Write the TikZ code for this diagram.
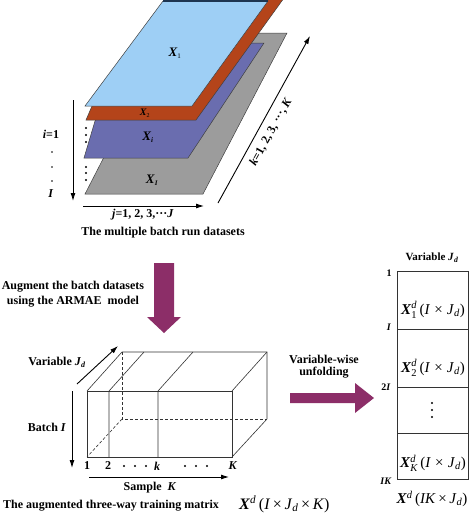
\documentclass[tikz,border=0pt]{standalone}
\usepackage{amsmath}
\usepackage{fontspec}
\setmainfont{Liberation Serif}
\usetikzlibrary{arrows.meta}
\definecolor{layblue}{HTML}{9ECFF5}
\definecolor{layorange}{HTML}{B4441A}
\definecolor{laypurple}{HTML}{6A6DAF}
\definecolor{laygray}{HTML}{9C9C9C}
\definecolor{bigarrow}{HTML}{8C2E68}
\definecolor{navy}{HTML}{1E3550}
\newcommand{\bX}{\textbf{\textit{X}}}
\newcommand{\fs}[1]{\fontsize{#1}{#1}\selectfont}
\newcommand{\tmul}{\,\textnormal{×}\,}
\newcommand{\wmul}{\;\textnormal{×}\;}
\begin{document}
\begin{tikzpicture}[x=1pt,y=-1pt,
  layer/.style={draw=black!75, line width=0.5pt},
  lab/.style={font=\fs{12}\bfseries, inner sep=0pt},
  smlab/.style={font=\fs{10}\bfseries, inner sep=0pt},
  arr/.style={line width=0.9pt, -{Latex[length=8pt,width=5pt]}},
  edge/.style={line width=0.6pt, black!80},
  hid/.style={line width=0.6pt, black!80, dash pattern=on 3pt off 2pt},
  form/.style={font=\fs{15}, inner sep=0pt},
  dotmark/.style={fill=black, inner sep=0pt, minimum size=2.4pt, circle}
]
\useasboundingbox (0,0) rectangle (474,515);

% ---------- stacked layers ----------
\begin{scope}
\clip (0,0) rectangle (474,515);
\fill[laygray] (85,194) -- (203,194) -- (287,33) -- (169,33) -- (103,159) -- cycle;
\draw[layer] (85,194) -- (203,194) -- (287,33) -- (169,33) -- (103,159) -- cycle;
\fill[laypurple] (84,158) -- (188,158) -- (264,43) -- (160,43) -- (95,121) -- cycle;
\draw[layer] (84,158) -- (188,158) -- (264,43) -- (160,43) -- (95,121) -- cycle;
\fill[layorange] (86,120) -- (196,120) -- (284,-2) -- (172,-2) -- (92,106) -- cycle;
\draw[layer] (86,120) -- (196,120) -- (284,-2) -- (172,-2) -- (92,106) -- cycle;
\fill[layblue] (85,106) -- (192,106) -- (268,1) -- (163,1) -- cycle;
\draw[layer] (85,106) -- (192,106) -- (268,1) -- (163,1) -- cycle;
\draw[navy, line width=2pt] (163,0.5) -- (268,0.5);
\end{scope}

\node[font=\fs{13}, inner sep=0pt] (x1) at (175,53) {\bX\textsubscript{\fs{7}1}};
\node[font=\fs{10}, inner sep=0pt] (x2) at (145,113) {\bX\textsubscript{\fs{6}2}};
\node[font=\fs{13}, inner sep=0pt] (xi) at (148,137) {\bX\textsubscript{\fs{7}\textbf{\textit{i}}}};
\node[font=\fs{13}, inner sep=0pt] (xI) at (152,180) {\bX\textsubscript{\fs{7}\textbf{\textit{I}}}};

% dots beside layers
\node[dotmark] (d1) at (86,128) {};
\node[dotmark] (d2) at (86,135) {};
\node[dotmark] (d3) at (86,142) {};
\node[dotmark] (d4) at (86,167) {};
\node[dotmark] (d5) at (86,173) {};
\node[dotmark] (d6) at (86,180) {};

% i axis
\coordinate (ia) at (73,100);
\coordinate (ib) at (73,201);
\draw[arr] (ia) -- (ib);
\node[lab] (ilab) at (51,134) {\textit{i}=1};
\node[dotmark, minimum size=1.8pt] (id1) at (52,152) {};
\node[dotmark, minimum size=1.8pt] (id2) at (52,167) {};
\node[dotmark, minimum size=1.8pt] (id3) at (52,181) {};
\node[lab] (ilabI) at (51,194) {\textit{I}};

% j axis
\coordinate (ja) at (83,206);
\coordinate (jb) at (204,206);
\draw[arr] (ja) -- (jb);
\node[lab] (jlab) at (143,215) {\textit{j}=1, 2, 3,···\textit{J}};
\node[lab] (cap1) at (163,233) {The multiple batch run datasets};

% k axis
\coordinate (ka) at (218,203);
\coordinate (kb) at (310,36);
\draw[arr] (ka) -- (kb);
\node[lab, rotate=61] (klab) at (271,132) {\textit{k}=1, 2, 3, ···, \textit{K}};

% ---------- big down arrow ----------
\fill[bigarrow] (154,263) -- (174,263) -- (174,317) -- (181,317) -- (164,333) -- (147,317) -- (154,317) -- cycle;
\node[lab, align=center] (aug) at (73,294) {Augment the batch datasets\\[3pt]using the ARMAE\ \ model};

% ---------- cube ----------
\coordinate (fTL) at (87,391);
\coordinate (fTR) at (232,391);
\coordinate (fBR) at (232,457);
\coordinate (fBL) at (87,457);
\coordinate (bTL) at (122,352);
\coordinate (bTR) at (267,352);
\coordinate (bBR) at (267,419);
\coordinate (bBL) at (122,419);
\coordinate (s2T) at (109,391);
\coordinate (s2B) at (109,457);
\coordinate (s2K) at (144,352);
\coordinate (skT) at (158,391);
\coordinate (skB) at (158,457);
\coordinate (skK) at (193,352);
\draw[hid] (bTL) -- (bBL) -- (bBR);
\draw[hid] (bBL) -- (fBL);
\draw[edge] (fTL) -- (fTR) -- (fBR) -- (fBL) -- cycle;
\draw[edge] (fTL) -- (bTL) -- (bTR) -- (bBR) -- (fBR);
\draw[edge] (fTR) -- (bTR);
\draw[edge] (s2B) -- (s2T) -- (s2K);
\draw[edge] (skB) -- (skT) -- (skK);

\coordinate (jda) at (77,384);
\coordinate (jdb) at (118,346);
\draw[arr] (jda) -- (jdb);
\node[lab, anchor=east] (varl) at (86,362) {Variable \textit{J}\textsubscript{\textit{d}}};
\coordinate (bta) at (72,391);
\coordinate (btb) at (72,468);
\draw[arr] (bta) -- (btb);
\node[lab] (batch) at (47,427) {Batch \textit{I}};

\node[lab] (n1) at (87,466) {1};
\node[lab] (n2) at (108,466) {2};
\node[dotmark] (c1) at (124,466) {};
\node[dotmark] (c2) at (135,466) {};
\node[dotmark] (c3) at (146,466) {};
\node[lab] (nk) at (157,466) {\textit{k}};
\node[dotmark] (c4) at (185,466) {};
\node[dotmark] (c5) at (196,466) {};
\node[dotmark] (c6) at (207,466) {};
\node[lab] (nK) at (233,466) {\textit{K}};

\coordinate (sa) at (89,477);
\coordinate (sb) at (229,477);
\draw[arr] (sa) -- (sb);
\node[lab] (sample) at (150,488) {Sample\ \ \textit{K}};

\node[lab, anchor=west] (cap2) at (3,506) {The augmented three-way training matrix};
\node[form, font=\fs{16}, anchor=west] (f3) at (239,504) {\bX$^{\textit{d}}$\,(\textit{I}\tmul\textit{J}$_{\textit{d}}$\tmul\textit{K})};

% ---------- right arrow ----------
\fill[bigarrow] (290,393) -- (355,393) -- (355,383) -- (374,398) -- (355,413) -- (355,403) -- (290,403) -- cycle;
\node[lab, align=center] (unf) at (324,367) {Variable-wise\\unfolding};

% ---------- unfolded matrix ----------
\coordinate (mTL) at (397,271);
\coordinate (mBR) at (468,479);
\draw[edge] (mTL) rectangle (mBR);
\coordinate (l1a) at (397,329);
\coordinate (l1b) at (468,329);
\coordinate (l2a) at (397,387);
\coordinate (l2b) at (468,387);
\coordinate (l3a) at (397,433);
\coordinate (l3b) at (468,433);
\draw[edge] (l1a) -- (l1b);
\draw[edge] (l2a) -- (l2b);
\draw[edge] (l3a) -- (l3b);

\node[smlab, font=\fs{11}\bfseries] (varr) at (432,258) {Variable \textit{J}\textsubscript{\textit{d}}};
\node[smlab] (r1) at (389,273) {1};
\node[smlab] (rI) at (389,327) {\textit{I}};
\node[smlab] (r2I) at (386,387) {2\textit{I}};
\node[smlab] (rIK) at (386,481) {\textit{IK}};

\node[form] (fx1) at (433,310) {\bX$^{\textit{d}}_{\textrm{1}}$\,(\textit{I}\wmul\textit{J}$_{\textit{d}}$)};
\node[form] (fx2) at (433,368) {\bX$^{\textit{d}}_{\textrm{2}}$\,(\textit{I}\wmul\textit{J}$_{\textit{d}}$)};
\node[dotmark] (v1) at (432,403) {};
\node[dotmark] (v2) at (432,410) {};
\node[dotmark] (v3) at (432,417) {};
\node[form] (fxK) at (433,463) {\bX$^{\textit{d}}_{\textit{K}}$\,(\textit{I}\wmul\textit{J}$_{\textit{d}}$)};
\node[form] (fall) at (432,499) {\bX$^{\textit{d}}$\,(\textit{IK}\tmul\textit{J}$_{\textit{d}}$)};
\end{tikzpicture}
\end{document}
